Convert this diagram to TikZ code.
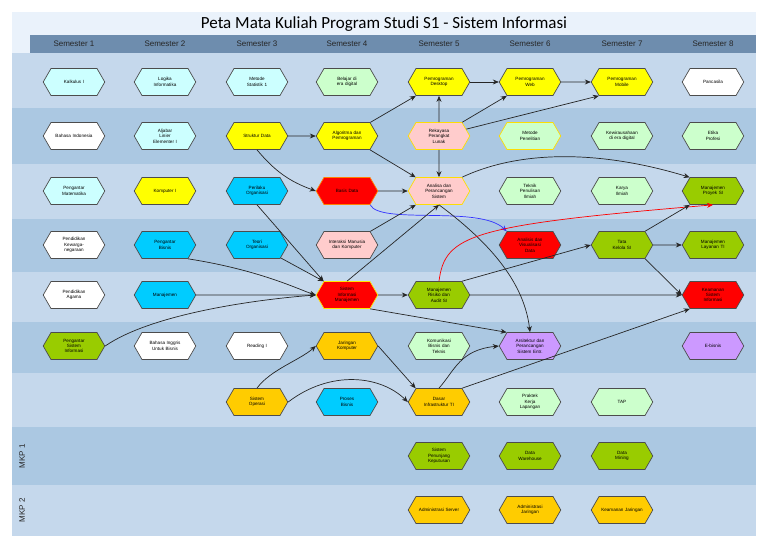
\documentclass[tikz,border=0pt]{standalone}
\usepackage{fontspec}
\setmainfont{Liberation Sans}
\newfontfamily\titlefont{Carlito}
\usetikzlibrary{shapes.symbols,arrows.meta}
\definecolor{cLC}{HTML}{CCFFFF}\definecolor{cLG}{HTML}{CCFFCC}
\definecolor{cY}{HTML}{FFFF00}\definecolor{cC}{HTML}{00CCFF}
\definecolor{cR}{HTML}{FF0000}\definecolor{cP}{HTML}{FFCCCC}
\definecolor{cG}{HTML}{99CC00}\definecolor{cO}{HTML}{FFCC00}
\definecolor{cV}{HTML}{CC99FF}\definecolor{cW}{HTML}{FFFFFF}
\definecolor{bandA}{HTML}{C5D8EC}\definecolor{bandB}{HTML}{ABC8E2}
\definecolor{hdr}{HTML}{6E8DAE}\definecolor{bgp}{HTML}{EAF2FB}
\begin{document}
\begin{tikzpicture}[x=1pt,y=-1pt,
 hx/.style={signal, signal to=east and west, signal pointer angle=120, draw=black!70, line width=0.7pt,
   minimum width=60pt, minimum height=27pt, inner xsep=1pt, inner ysep=0pt, align=center,
   font=\fontsize{4.6}{5.4}\selectfont, text width=44pt},
 yb/.style={draw=yellow!80!orange},
 ar/.style={-{Stealth[length=6pt,width=5pt]}, line width=0.7pt, black!85},
 hd/.style={font=\fontsize{8}{9}\selectfont, text=black!85}]
\useasboundingbox (0,0) rectangle (768,547);
\fill[white] (0,0) rectangle (768,547);
\fill[bgp] (12,12) rectangle (756,536);
\node[font=\titlefont\fontsize{17}{19}\selectfont] (title) at (384,24) {Peta Mata Kuliah Program Studi S1 - Sistem Informasi};
\fill[hdr] (30,35) rectangle (756,53);
\foreach \i/\x in {1/74,2/165,3/257,4/347,5/439,6/530,7/622,8/713}
  \node[hd] (h\i) at (\x,44) {Semester \i};
\fill[bandA] (12,53) rectangle (756,108);
\fill[bandB] (12,108) rectangle (756,164);
\fill[bandA] (12,164) rectangle (756,219);
\fill[bandB] (12,219) rectangle (756,272);
\fill[bandA] (12,272) rectangle (756,322);
\fill[bandB] (12,322) rectangle (756,373);
\fill[bandA] (12,373) rectangle (756,427);
\fill[bandB] (12,427) rectangle (756,485);
\fill[bandA] (12,485) rectangle (756,536);
\node[hd, rotate=90] (m1) at (22,456) {MKP 1};
\node[hd, rotate=90] (m2) at (22,510) {MKP 2};
% row 1
\node[hx,fill=cLC] (a1) at (74,82) {Kalkulus I};
\node[hx,fill=cLC] (a2) at (165,82) {Logika\\Informatika};
\node[hx,fill=cLC] (a3) at (257,82) {Metode\\Statistik 1};
\node[hx,fill=cLG] (a4) at (347,82) {Belajar di\\era digital};
\node[hx,fill=cY] (a5) at (439,82) {Pemrograman\\Desktop};
\node[hx,fill=cY] (a6) at (530,82) {Pemrograman\\Web};
\node[hx,fill=cY] (a7) at (622,82) {Pemrograman\\Mobile};
\node[hx,fill=cW] (a8) at (713,82) {Pancasila};
% row 2
\node[hx,fill=cW] (b1) at (74,136) {Bahasa Indonesia};
\node[hx,fill=cLC] (b2) at (165,136) {Aljabar\\Linier\\Elementer I};
\node[hx,fill=cY] (b3) at (257,136) {Struktur Data};
\node[hx,fill=cY] (b4) at (347,136) {Algoritma dan\\Pemrograman};
\node[hx,fill=cP,yb] (b5) at (439,136) {Rekayasa\\Perangkat\\Lunak};
\node[hx,fill=cLG,yb] (b6) at (530,136) {Metode\\Penelitian};
\node[hx,fill=cLG] (b7) at (622,136) {Kewirausahaan\\di era digital};
\node[hx,fill=cLG] (b8) at (713,136) {Etika\\Profesi};
% row 3
\node[hx,fill=cLC] (c1) at (74,191) {Pengantar\\Matematika};
\node[hx,fill=cY] (c2) at (165,191) {Komputer I};
\node[hx,fill=cC] (c3) at (257,191) {Perilaku\\Organisasi};
\node[hx,fill=cR,draw=orange] (c4) at (347,191) {Basis Data};
\node[hx,fill=cP,yb] (c5) at (439,191) {Analisa dan\\Perancangan\\Sistem};
\node[hx,fill=cLG] (c6) at (530,191) {Teknik\\Penulisan\\Ilmiah};
\node[hx,fill=cLG] (c7) at (622,191) {Karya\\Ilmiah};
\node[hx,fill=cG] (c8) at (713,191) {Manajemen\\Proyek SI};
% row 4
\node[hx,fill=cW] (d1) at (74,245) {Pendidikan\\Kewarga-\\negaraan};
\node[hx,fill=cC] (d2) at (165,245) {Pengantar\\Bisnis};
\node[hx,fill=cC] (d3) at (257,245) {Teori\\Organisasi};
\node[hx,fill=cP] (d4) at (347,245) {Interaksi Manusia\\dan Komputer};
\node[hx,fill=cR] (d6) at (530,245) {Analisis dan\\Visualisasi\\Data};
\node[hx,fill=cG] (d7) at (622,245) {Tata\\Kelola SI};
\node[hx,fill=cG] (d8) at (713,245) {Manajemen\\Layanan TI};
% row 5
\node[hx,fill=cW] (e1) at (74,295) {Pendidikan\\Agama};
\node[hx,fill=cC] (e2) at (165,295) {Manajemen};
\node[hx,fill=cR,draw=yellow!90!orange] (e4) at (347,295) {Sistem\\Informasi\\Manajemen};
\node[hx,fill=cG] (e5) at (439,295) {Manajemen\\Risiko dan\\Audit SI};
\node[hx,fill=cR] (e8) at (713,295) {Keamanan\\Sistem\\Informasi};
% row 6
\node[hx,fill=cG] (f1) at (74,346) {Pengantar\\Sistem\\Informasi};
\node[hx,fill=cW] (f2) at (165,346) {Bahasa Inggris\\Untuk Bisnis};
\node[hx,fill=cW] (f3) at (257,346) {Reading I};
\node[hx,fill=cO] (f4) at (347,346) {Jaringan\\Komputer};
\node[hx,fill=cLG] (f5) at (439,346) {Komunikasi\\Bisnis dan\\Teknis};
\node[hx,fill=cV] (f6) at (530,346) {Arsitektur dan\\Perancangan\\Sistem Entr.};
\node[hx,fill=cV] (f8) at (713,346) {E-bisnis};
% row 7
\node[hx,fill=cO] (g3) at (257,402) {Sistem\\Operasi};
\node[hx,fill=cC] (g4) at (347,402) {Proses\\Bisnis};
\node[hx,fill=cO] (g5) at (439,402) {Dasar\\Infrastruktur TI};
\node[hx,fill=cLG] (g6) at (530,402) {Praktek\\Kerja\\Lapangan};
\node[hx,fill=cLG] (g7) at (622,402) {TAP};
% MKP
\node[hx,fill=cG] (p5) at (439,456) {Sistem\\Penunjang\\Keputusan};
\node[hx,fill=cG] (p6) at (530,456) {Data\\Warehouse};
\node[hx,fill=cG] (p7) at (622,456) {Data\\Mining};
\node[hx,fill=cO] (q5) at (439,510) {Administrasi Server};
\node[hx,fill=cO] (q6) at (530,510) {Administrasi Jaringan};
\node[hx,fill=cO] (q7) at (622,510) {Keamanan Jaringan};
% edges
\draw[ar] (b3) -- (b4);
\draw[ar] (b3.south) to[bend right=15] (c4.west);
\draw[ar] (b4) -- (a5.south west);
\draw[ar] (b4) -- (c5.north west);
\draw[ar] (a5) -- (a6);
\draw[ar] (a6) -- (a7);
\draw[ar] (b5) -- (a5.south);
\draw[ar] (b5) -- (a6.south west);
\draw[ar] (b5) -- (a7.south west);
\draw[ar] (b5) -- (c5.north);
\draw[ar] (c4) -- (c5);
\draw[ar,blue!80] (c4.south east) .. controls (380,225) and (480,205) .. (d6.north west);
\draw[ar] (c5.north east) .. controls (520,150) and (600,150) .. (c8.north west);
\draw[ar] (c5.south) .. controls (500,250) and (525,290) .. (f6.north);
\draw[ar] (d4) -- (c5.south west);
\draw[ar] (e4.north) -- (c5.south);
\draw[ar] (c3.south) -- (e4.north west);
\draw[ar] (d3) -- (e4.north west);
\draw[ar] (d2.south east) .. controls (260,270) and (300,290) .. (e4.west);
\draw[ar] (e2) -- (e4);
\draw[ar] (f1.east) .. controls (150,315) and (250,300) .. (e4.west);
\draw[ar] (e4) -- (e5);
\draw[ar] (e4.south east) -- (f6.north west);
\draw[ar] (e5.north east) -- (d7.west);
\draw[ar] (e5) -- (e8);
\draw[ar,red] (e5.north) .. controls (445,235) and (470,225) .. (e8|-c8.south);
\draw[ar] (d7.north east) -- (c8.south west);
\draw[ar] (d7) -- (d8);
\draw[ar] (d7.south east) -- (e8.west);
\draw[ar] (f4.east) -- (g5.north west);
\draw[ar] (g3.north) .. controls (270,370) and (300,360) .. (f4.west);
\draw[ar] (g3.east) .. controls (330,370) and (380,375) .. (g5.west);
\draw[ar] (g5.north) .. controls (455,370) and (460,350) .. (f6.west);
\draw[ar] (g5.north east) -- (e8.south west);
\end{tikzpicture}
\end{document}
